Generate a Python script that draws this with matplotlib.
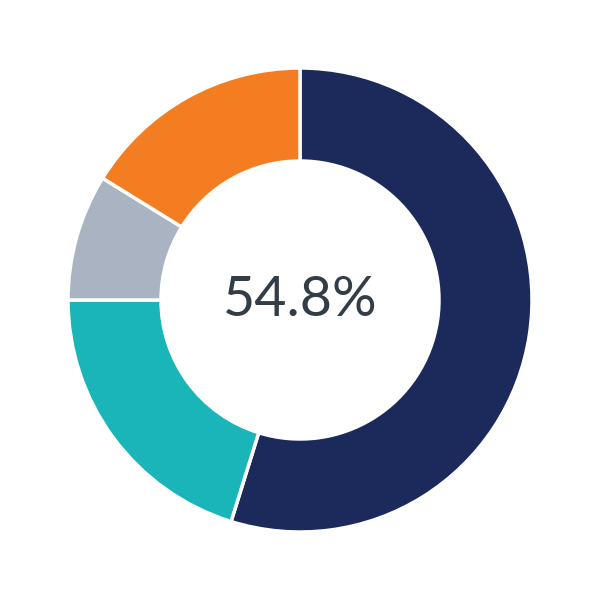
import matplotlib
matplotlib.use("Agg")
import matplotlib.pyplot as plt

labels = ["A", "B", "C", "D"]
values = [54.8, 20.2, 8.8, 16.2]
colors = ["#1b2a5a", "#1ab5b8", "#a9b3c1", "#f37d20"]
center_label = "54.8%"

fig = plt.figure(figsize=(6, 6), dpi=100)
ax = fig.add_axes([0, 0, 1, 1])
ax.pie(values, colors=colors, startangle=90, counterclock=False, radius=2.32,
       wedgeprops=dict(width=0.93, edgecolor="white", linewidth=2.5))
ax.text(0, 0, center_label, ha="center", va="center", fontsize=40,
        family="Lato", fontweight="normal", color="#333d47")
ax.set_xlim(-3, 3)
ax.set_ylim(-3, 3)
ax.set_aspect("equal")
ax.axis("off")
fig.savefig("out.png", dpi=100, facecolor="white")
